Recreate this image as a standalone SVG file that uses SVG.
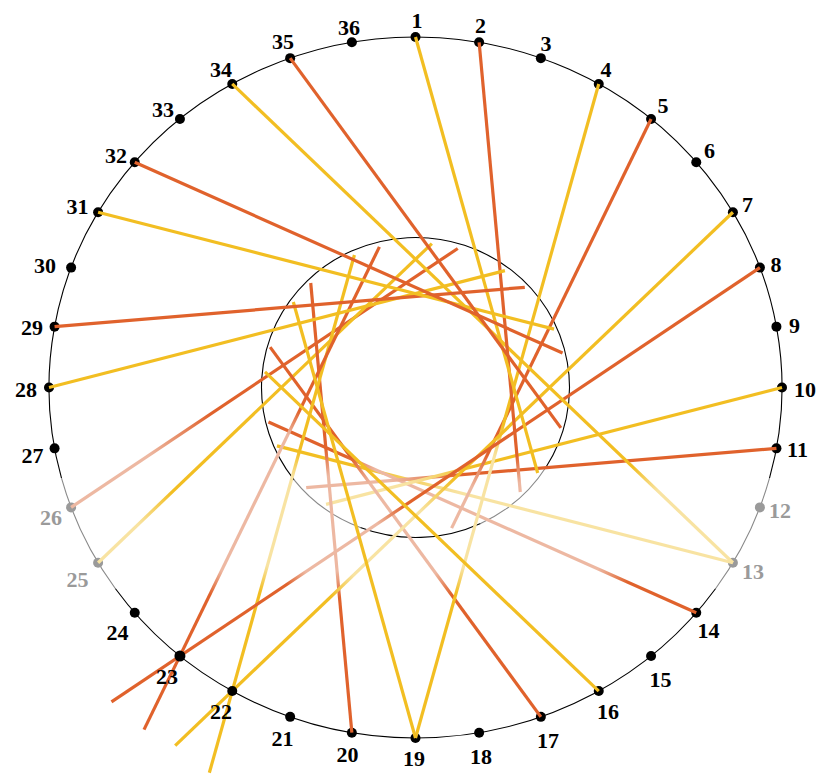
<svg xmlns="http://www.w3.org/2000/svg" width="825" height="779" viewBox="0 0 825 779">
<style>
.ring{fill:none;stroke:#000;stroke-width:1.1}
.ringg{fill:none;stroke:#8a8a8a;stroke-width:1.1}
.c line{stroke-width:3.2;fill:none}
.y{stroke:#F2BE22}
.o{stroke:#E0622C}
.dot{fill:#000}
.dg{fill:#9a9a9a}
.lb{font-family:"Liberation Serif","Times New Roman",serif;font-weight:bold;font-size:22px;text-anchor:middle;fill:#000}
.lg{fill:#9a9a9a}
</style>
<defs>
<linearGradient id="g2" gradientUnits="userSpaceOnUse" x1="479.14" y1="42.32" x2="520.28" y2="492.01"><stop offset="0" stop-color="#E0622C"/><stop offset="0.92" stop-color="#E0622C"/><stop offset="0.98" stop-color="#EDB8A2"/></linearGradient>
<linearGradient id="g4" gradientUnits="userSpaceOnUse" x1="598.75" y1="83.96" x2="415.5" y2="738"><stop offset="0" stop-color="#F2BE22"/><stop offset="0.52" stop-color="#F2BE22"/><stop offset="0.57" stop-color="#F8E3A2"/><stop offset="0.74" stop-color="#F8E3A2"/><stop offset="0.78" stop-color="#F2BE22"/></linearGradient>
<linearGradient id="g5" gradientUnits="userSpaceOnUse" x1="651.08" y1="119" x2="451.6" y2="528.12"><stop offset="0" stop-color="#E0622C"/><stop offset="0.82" stop-color="#E0622C"/><stop offset="0.9" stop-color="#EDB8A2"/></linearGradient>
<linearGradient id="g7" gradientUnits="userSpaceOnUse" x1="732.9" y1="212.25" x2="175.18" y2="745.62"><stop offset="0" stop-color="#F2BE22"/><stop offset="0.5" stop-color="#F2BE22"/><stop offset="0.56" stop-color="#F8E3A2"/><stop offset="0.68" stop-color="#F8E3A2"/><stop offset="0.72" stop-color="#F2BE22"/></linearGradient>
<linearGradient id="g8" gradientUnits="userSpaceOnUse" x1="759.9" y1="267.62" x2="111.48" y2="701.83"><stop offset="0" stop-color="#E0622C"/><stop offset="0.55" stop-color="#E0622C"/><stop offset="0.59" stop-color="#EDB8A2"/><stop offset="0.7" stop-color="#EDB8A2"/><stop offset="0.73" stop-color="#E0622C"/></linearGradient>
<linearGradient id="g10" gradientUnits="userSpaceOnUse" x1="782" y1="387.5" x2="326.07" y2="504.33"><stop offset="0" stop-color="#F2BE22"/><stop offset="0.67" stop-color="#F2BE22"/><stop offset="0.82" stop-color="#F8E3A2"/></linearGradient>
<linearGradient id="g11" gradientUnits="userSpaceOnUse" x1="776.43" y1="448.36" x2="306.21" y2="487.71"><stop offset="0" stop-color="#E0622C"/><stop offset="0.67" stop-color="#E0622C"/><stop offset="0.82" stop-color="#EDB8A2"/></linearGradient>
<linearGradient id="g13" gradientUnits="userSpaceOnUse" x1="732.9" y1="562.75" x2="276.97" y2="445.92"><stop offset="0" stop-color="#F8E3A2"/><stop offset="0.6" stop-color="#F8E3A2"/><stop offset="0.82" stop-color="#F2BE22"/></linearGradient>
<linearGradient id="g14" gradientUnits="userSpaceOnUse" x1="696.25" y1="612.8" x2="268.46" y2="422.03"><stop offset="0" stop-color="#E0622C"/><stop offset="0.16" stop-color="#E0622C"/><stop offset="0.23" stop-color="#EDB8A2"/><stop offset="0.75" stop-color="#EDB8A2"/><stop offset="0.82" stop-color="#E0622C"/></linearGradient>
<linearGradient id="g17" gradientUnits="userSpaceOnUse" x1="540.85" y1="716.86" x2="270.12" y2="347.09"><stop offset="0" stop-color="#E0622C"/><stop offset="0.33" stop-color="#E0622C"/><stop offset="0.39" stop-color="#EDB8A2"/><stop offset="0.63" stop-color="#EDB8A2"/><stop offset="0.7" stop-color="#E0622C"/></linearGradient>
<linearGradient id="g20" gradientUnits="userSpaceOnUse" x1="351.86" y1="732.68" x2="310.72" y2="283.01"><stop offset="0" stop-color="#E0622C"/><stop offset="0.3" stop-color="#E0622C"/><stop offset="0.36" stop-color="#EDB8A2"/><stop offset="0.57" stop-color="#EDB8A2"/><stop offset="0.63" stop-color="#E0622C"/></linearGradient>
<linearGradient id="g22" gradientUnits="userSpaceOnUse" x1="209.34" y1="772.8" x2="354.42" y2="255.01"><stop offset="0" stop-color="#F2BE22"/><stop offset="0.35" stop-color="#F2BE22"/><stop offset="0.4" stop-color="#F8E3A2"/><stop offset="0.57" stop-color="#F8E3A2"/><stop offset="0.62" stop-color="#F2BE22"/></linearGradient>
<linearGradient id="g23" gradientUnits="userSpaceOnUse" x1="144.01" y1="729.64" x2="379.4" y2="246.88"><stop offset="0" stop-color="#E0622C"/><stop offset="0.28" stop-color="#E0622C"/><stop offset="0.33" stop-color="#EDB8A2"/><stop offset="0.61" stop-color="#EDB8A2"/><stop offset="0.66" stop-color="#E0622C"/></linearGradient>
<linearGradient id="g25" gradientUnits="userSpaceOnUse" x1="98.1" y1="562.75" x2="431.87" y2="243.56"><stop offset="0" stop-color="#F8E3A2"/><stop offset="0.12" stop-color="#F8E3A2"/><stop offset="0.22" stop-color="#F2BE22"/></linearGradient>
<linearGradient id="g26" gradientUnits="userSpaceOnUse" x1="71.1" y1="507.38" x2="457.75" y2="248.46"><stop offset="0" stop-color="#EDB8A2"/><stop offset="0.2" stop-color="#EDB8A2"/><stop offset="0.36" stop-color="#E0622C"/></linearGradient>
<linearGradient id="g34" gradientUnits="userSpaceOnUse" x1="232.25" y1="83.96" x2="732.9" y2="562.75"><stop offset="0" stop-color="#F2BE22"/><stop offset="0.8" stop-color="#F2BE22"/><stop offset="0.85" stop-color="#F8E3A2"/></linearGradient>
</defs>
<rect width="825" height="779" fill="#fff"/>
<g id="rings">
<path class="ring" d="M715.7 588.5 A366.5 350.5 0 0 1 115.3 588.5"/>
<path class="ring" d="M61.5 478.2 A366.5 350.5 0 1 1 769.5 478.2"/>
<path class="ringg" d="M769.5 478.2 A366.5 350.5 0 0 1 715.7 588.5"/>
<path class="ringg" d="M115.3 588.5 A366.5 350.5 0 0 1 61.5 478.2"/>
<path class="ring" d="M480.6 523.4 A154 150 0 0 1 360.3 527.5"/>
<path class="ring" d="M294.1 479.8 A154 150 0 1 1 546.1 467"/>
<path class="ringg" d="M546.1 467 A154 150 0 0 1 480.6 523.4"/>
<path class="ringg" d="M360.3 527.5 A154 150 0 0 1 294.1 479.8"/>
</g>
<g id="n1"><circle class="dot" cx="415.5" cy="37" r="5"/><text class="lb" x="417" y="28">1</text></g>
<g id="n2"><circle class="dot" cx="479.14" cy="42.32" r="5"/><text class="lb" x="480.5" y="33">2</text></g>
<g id="n3"><circle class="dot" cx="540.85" cy="58.14" r="5"/><text class="lb" x="546" y="51">3</text></g>
<g id="n4"><circle class="dot" cx="598.75" cy="83.96" r="5"/><text class="lb" x="606" y="77">4</text></g>
<g id="n5"><circle class="dot" cx="651.08" cy="119" r="5"/><text class="lb" x="663" y="113">5</text></g>
<g id="n6"><circle class="dot" cx="696.25" cy="162.2" r="5"/><text class="lb" x="709.5" y="158">6</text></g>
<g id="n7"><circle class="dot" cx="732.9" cy="212.25" r="5"/><text class="lb" x="747.5" y="212">7</text></g>
<g id="n8"><circle class="dot" cx="759.9" cy="267.62" r="5"/><text class="lb" x="776" y="272">8</text></g>
<g id="n9"><circle class="dot" cx="776.43" cy="326.64" r="5"/><text class="lb" x="794.5" y="333">9</text></g>
<g id="n10"><circle class="dot" cx="782" cy="387.5" r="5"/><text class="lb" x="805" y="397">10</text></g>
<g id="n11"><circle class="dot" cx="776.43" cy="448.36" r="5"/><text class="lb" x="797.5" y="457">11</text></g>
<g id="n12"><circle class="dg" cx="759.9" cy="507.38" r="5"/><text class="lb lg" x="780" y="518">12</text></g>
<g id="n13"><circle class="dg" cx="732.9" cy="562.75" r="5"/><text class="lb lg" x="753" y="579">13</text></g>
<g id="n14"><circle class="dot" cx="696.25" cy="612.8" r="5"/><text class="lb" x="708.5" y="638">14</text></g>
<g id="n15"><circle class="dot" cx="651.08" cy="656" r="5"/><text class="lb" x="660.5" y="687">15</text></g>
<g id="n16"><circle class="dot" cx="598.75" cy="691.04" r="5"/><text class="lb" x="608" y="719">16</text></g>
<g id="n17"><circle class="dot" cx="540.85" cy="716.86" r="5"/><text class="lb" x="548" y="748">17</text></g>
<g id="n18"><circle class="dot" cx="479.14" cy="732.68" r="5"/><text class="lb" x="481" y="764">18</text></g>
<g id="n19"><circle class="dot" cx="415.5" cy="738" r="5"/><text class="lb" x="414" y="766">19</text></g>
<g id="n20"><circle class="dot" cx="351.86" cy="732.68" r="5"/><text class="lb" x="347.5" y="762">20</text></g>
<g id="n21"><circle class="dot" cx="290.15" cy="716.86" r="5"/><text class="lb" x="282.5" y="746">21</text></g>
<g id="n24"><circle class="dot" cx="134.75" cy="612.8" r="5"/><text class="lb" x="117.5" y="640">24</text></g>
<g id="n25"><circle class="dg" cx="98.1" cy="562.75" r="5"/><text class="lb lg" x="77.5" y="587">25</text></g>
<g id="n26"><circle class="dg" cx="71.1" cy="507.38" r="5"/><text class="lb lg" x="51" y="525">26</text></g>
<g id="n27"><circle class="dot" cx="54.57" cy="448.36" r="5"/><text class="lb" x="32.5" y="463">27</text></g>
<g id="n28"><circle class="dot" cx="49" cy="387.5" r="5"/><text class="lb" x="26" y="397">28</text></g>
<g id="n29"><circle class="dot" cx="54.57" cy="326.64" r="5"/><text class="lb" x="32" y="335">29</text></g>
<g id="n30"><circle class="dot" cx="71.1" cy="267.62" r="5"/><text class="lb" x="45" y="273">30</text></g>
<g id="n31"><circle class="dot" cx="98.1" cy="212.25" r="5"/><text class="lb" x="77.5" y="214">31</text></g>
<g id="n32"><circle class="dot" cx="134.75" cy="162.2" r="5"/><text class="lb" x="116" y="163">32</text></g>
<g id="n33"><circle class="dot" cx="179.92" cy="119" r="5"/><text class="lb" x="163" y="117">33</text></g>
<g id="n34"><circle class="dot" cx="232.25" cy="83.96" r="5"/><text class="lb" x="221" y="77">34</text></g>
<g id="n35"><circle class="dot" cx="290.15" cy="58.14" r="5"/><text class="lb" x="283" y="49">35</text></g>
<g id="n36"><circle class="dot" cx="351.86" cy="42.32" r="5"/><text class="lb" x="349" y="35">36</text></g>
<g id="connectors" class="c">
<line x1="732.9" y1="562.75" x2="276.97" y2="445.92" stroke="url(#g13)"/>
<line x1="71.1" y1="507.38" x2="457.75" y2="248.46" stroke="url(#g26)"/>
<line x1="98.1" y1="562.75" x2="431.87" y2="243.56" stroke="url(#g25)"/>
<line x1="696.25" y1="612.8" x2="268.46" y2="422.03" stroke="url(#g14)"/>
<line x1="776.43" y1="448.36" x2="306.21" y2="487.71" stroke="url(#g11)"/>
<line x1="782" y1="387.5" x2="326.07" y2="504.33" stroke="url(#g10)"/>
<line x1="651.08" y1="119" x2="451.6" y2="528.12" stroke="url(#g5)"/>
<line x1="540.85" y1="716.86" x2="270.12" y2="347.09" stroke="url(#g17)"/>
<line x1="351.86" y1="732.68" x2="310.72" y2="283.01" stroke="url(#g20)"/>
<line x1="209.34" y1="772.8" x2="354.42" y2="255.01" stroke="url(#g22)"/>
<line x1="144.01" y1="729.64" x2="379.4" y2="246.88" stroke="url(#g23)"/>
<line x1="598.75" y1="83.96" x2="415.5" y2="738" stroke="url(#g4)"/>
<line x1="732.9" y1="212.25" x2="175.18" y2="745.62" stroke="url(#g7)"/>
<line x1="759.9" y1="267.62" x2="111.48" y2="701.83" stroke="url(#g8)"/>
<line x1="232.25" y1="83.96" x2="732.9" y2="562.75" stroke="url(#g34)"/>
<line x1="479.14" y1="42.32" x2="520.28" y2="492.01" stroke="url(#g2)"/>
<line class="y" x1="415.5" y1="37" x2="537.67" y2="473.03"/>
<line class="y" x1="598.75" y1="691.04" x2="264.98" y2="371.85"/>
<line class="y" x1="415.5" y1="738" x2="293.33" y2="301.97"/>
<line class="y" x1="49" y1="387.5" x2="504.93" y2="270.67"/>
<line class="o" x1="54.57" y1="326.64" x2="524.79" y2="287.29"/>
<line class="y" x1="98.1" y1="212.25" x2="554.03" y2="329.08"/>
<line class="o" x1="134.75" y1="162.2" x2="562.54" y2="352.97"/>
<line class="o" x1="290.15" y1="58.14" x2="560.88" y2="427.91"/>
</g>
<g id="n22"><circle class="dot" cx="232.25" cy="691.04" r="5"/><text class="lb" x="221" y="719">22</text></g>
<g id="n23"><circle class="dot" cx="179.92" cy="656" r="5.5"/><text class="lb" x="167" y="684">23</text></g>
</svg>
